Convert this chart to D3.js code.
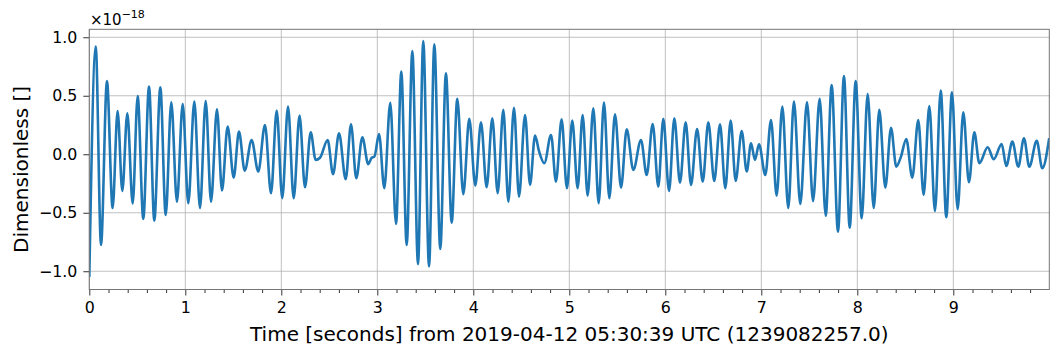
<!DOCTYPE html>
<html>
<head>
<meta charset="utf-8">
<script src="https://cdn.jsdelivr.net/npm/d3@7"></script>
<style>
  html, body { margin: 0; padding: 0; background: #fff; }
  svg { display: block; font-family: "DejaVu Sans", sans-serif; }
</style>
</head>
<body>
<svg id="chart" width="1058" height="353"></svg>
<script>
// Time (s) of successive extrema of the strain trace
const times = [0.0, 0.067, 0.122, 0.184, 0.243, 0.295, 0.344, 0.396, 0.452, 0.504, 0.5625, 0.622, 0.677, 0.74, 0.796, 0.854, 0.913, 0.973, 1.031, 1.094, 1.153, 1.2125, 1.268, 1.330, 1.382, 1.441, 1.504, 1.559, 1.619, 1.691, 1.760, 1.830, 1.893, 1.952, 2.010, 2.07, 2.129, 2.19, 2.247, 2.306, 2.358, 2.403, 2.483, 2.539, 2.601, 2.671, 2.726, 2.781, 2.844, 2.906, 2.941, 2.97, 3.018, 3.073, 3.135, 3.195, 3.25, 3.306, 3.365, 3.424, 3.479, 3.539, 3.594, 3.656, 3.715, 3.775, 3.833, 3.896, 3.958, 4.021, 4.080, 4.139, 4.198, 4.254, 4.3125, 4.365, 4.424, 4.476, 4.539, 4.591, 4.643, 4.684, 4.74, 4.81, 4.861, 4.92, 4.975, 5.031, 5.087, 5.139, 5.191, 5.25, 5.306, 5.361, 5.417, 5.476, 5.539, 5.598, 5.667, 5.747, 5.806, 5.869, 5.927, 5.979, 6.039, 6.094, 6.153, 6.212, 6.268, 6.331, 6.39, 6.448, 6.51, 6.57, 6.625, 6.681, 6.733, 6.796, 6.848, 6.893, 6.934, 6.976, 7.042, 7.101, 7.16, 7.219, 7.281, 7.34, 7.406, 7.476, 7.539, 7.608, 7.671, 7.733, 7.799, 7.861, 7.921, 7.983, 8.046, 8.108, 8.171, 8.229, 8.292, 8.351, 8.406, 8.455, 8.51, 8.573, 8.635, 8.691, 8.75, 8.809, 8.869, 8.927, 8.986, 9.045, 9.104, 9.163, 9.219, 9.271, 9.358, 9.421, 9.504, 9.552, 9.615, 9.677, 9.736, 9.792, 9.869, 9.927, 9.999];
// Strain values (units of 1e-18) at those times
const strain = [-1.05, 0.92, -0.775, 0.626, -0.46, 0.37, -0.314, 0.35, -0.42, 0.498, -0.553, 0.578, -0.567, 0.572, -0.519, 0.444, -0.405, 0.43, -0.419, 0.45, -0.46, 0.455, -0.405, 0.385, -0.31, 0.236, -0.2, 0.193, -0.14, 0.122, -0.148, 0.25, -0.333, 0.373, -0.376, 0.407, -0.376, 0.33, -0.282, 0.188, -0.049, -0.03, 0.122, -0.171, 0.18, -0.214, 0.256, -0.205, 0.145, -0.085, -0.03, -0.02, 0.173, -0.29, 0.44, -0.596, 0.706, -0.775, 0.883, -0.94, 0.968, -0.96, 0.94, -0.81, 0.692, -0.585, 0.473, -0.342, 0.302, -0.268, 0.273, -0.282, 0.308, -0.333, 0.379, -0.405, 0.398, -0.362, 0.336, -0.262, 0.159, 0.028, -0.077, 0.165, -0.234, 0.299, -0.29, 0.287, -0.29, 0.336, -0.354, 0.393, -0.419, 0.441, -0.376, 0.342, -0.285, 0.214, -0.134, 0.122, -0.177, 0.259, -0.277, 0.302, -0.314, 0.308, -0.243, 0.273, -0.262, 0.216, -0.234, 0.273, -0.228, 0.256, -0.29, 0.287, -0.228, 0.199, -0.148, 0.094, -0.049, 0.085, -0.177, 0.293, -0.354, 0.407, -0.46, 0.45, -0.425, 0.444, -0.4, 0.473, -0.525, 0.592, -0.662, 0.669, -0.627, 0.626, -0.547, 0.515, -0.46, 0.379, -0.285, 0.227, -0.106, -0.02, 0.131, -0.2, 0.293, -0.348, 0.413, -0.485, 0.544, -0.538, 0.53, -0.47, 0.359, -0.239, 0.188, -0.077, 0.06, -0.043, 0.088, -0.1, 0.108, -0.106, 0.137, -0.106, 0.114, -0.12, 0.137];

const xTicks = [0, 1, 2, 3, 4, 5, 6, 7, 8, 9];
const xMinorTicks = d3.range(0, 50).map(i => i * 0.2).filter(v => Math.abs(v - Math.round(v)) > 1e-6);
const yTicks = [-1.0, -0.5, 0.0, 0.5, 1.0];
const xDomain = [0, 10];
const yDomain = [-1.156, 1.068];
const xLabel = "Time [seconds] from 2019-04-12 05:30:39 UTC (1239082257.0)";
const yLabel = "Dimensionless []";

const data = times.map((t, i) => ({t, v: strain[i]}));

const svg = d3.select("#chart");
const pLeft = 89.3, pRight = 1049.3, pTop = 29.3, pBottom = 289.5;

const x = d3.scaleLinear().domain(xDomain).range([pLeft, pRight]);
const y = d3.scaleLinear().domain(yDomain).range([pBottom, pTop]);

// grid
const grid = svg.append("g");
grid.selectAll("line.vx").data(xTicks).join("line")
  .attr("x1", d => x(d)).attr("x2", d => x(d))
  .attr("y1", pTop).attr("y2", pBottom)
  .attr("stroke", "#b0b0b0").attr("stroke-width", 0.8);
grid.selectAll("line.hy").data(yTicks).join("line")
  .attr("x1", pLeft).attr("x2", pRight)
  .attr("y1", d => y(d)).attr("y2", d => y(d))
  .attr("stroke", "#b0b0b0").attr("stroke-width", 0.8);

// clip
svg.append("clipPath").attr("id", "clip").append("rect")
  .attr("x", pLeft).attr("y", pTop).attr("width", pRight - pLeft).attr("height", pBottom - pTop);

// line
const line = d3.line().x(d => x(d.t)).y(d => y(d.v)).curve(d3.curveMonotoneX);
svg.append("path").datum(data)
  .attr("clip-path", "url(#clip)")
  .attr("d", line)
  .attr("fill", "none")
  .attr("stroke", "#1f77b4")
  .attr("stroke-width", 2.6)
  .attr("stroke-linejoin", "round");

const fmtMinus = s => s.replace("-", "\u2212");

// x axis
const xAxis = svg.append("g").attr("transform", `translate(0,${pBottom})`)
  .call(d3.axisBottom(x).tickValues(xTicks).tickFormat(d3.format("d")).tickSize(6).tickPadding(6.6));
const xMinor = svg.append("g").attr("transform", `translate(0,${pBottom})`)
  .call(d3.axisBottom(x).tickValues(xMinorTicks).tickFormat("").tickSize(3.5));
[xAxis, xMinor].forEach(g => { g.select(".domain").remove(); g.selectAll("line").attr("stroke", "#000").attr("stroke-width", 0.8); });
xAxis.selectAll("text").attr("font-size", 15.8).attr("font-family", "DejaVu Sans").attr("fill", "#000");

// y axis
const yAxis = svg.append("g").attr("transform", `translate(${pLeft},0)`)
  .call(d3.axisLeft(y).tickValues(yTicks).tickFormat(d => fmtMinus(d3.format(".1f")(d))).tickSize(6).tickPadding(6));
yAxis.select(".domain").remove();
yAxis.selectAll("line").attr("stroke", "#000").attr("stroke-width", 0.8);
yAxis.selectAll("text").attr("font-size", 15.8).attr("font-family", "DejaVu Sans").attr("fill", "#000");

// frame
svg.append("rect").attr("x", pLeft).attr("y", pTop)
  .attr("width", pRight - pLeft).attr("height", pBottom - pTop)
  .attr("fill", "none").attr("stroke", "#757575").attr("stroke-width", 1);

// labels
svg.append("text").attr("x", (pLeft + pRight) / 2).attr("y", 340.5)
  .attr("text-anchor", "middle").attr("font-size", 20).attr("fill", "#000")
  .text(xLabel);
svg.append("text").attr("transform", `translate(27.5,${(pTop + pBottom) / 2 + 10}) rotate(-90)`)
  .attr("text-anchor", "middle").attr("font-size", 20).attr("fill", "#000")
  .text(yLabel);

// offset text
const off = svg.append("text").attr("x", 90).attr("y", 24.5).attr("font-size", 15).attr("fill", "#000");
off.append("tspan").text("\u00d710");
off.append("tspan").attr("dy", -7).attr("font-size", 11).text("\u221218");
</script>
</body>
</html>
